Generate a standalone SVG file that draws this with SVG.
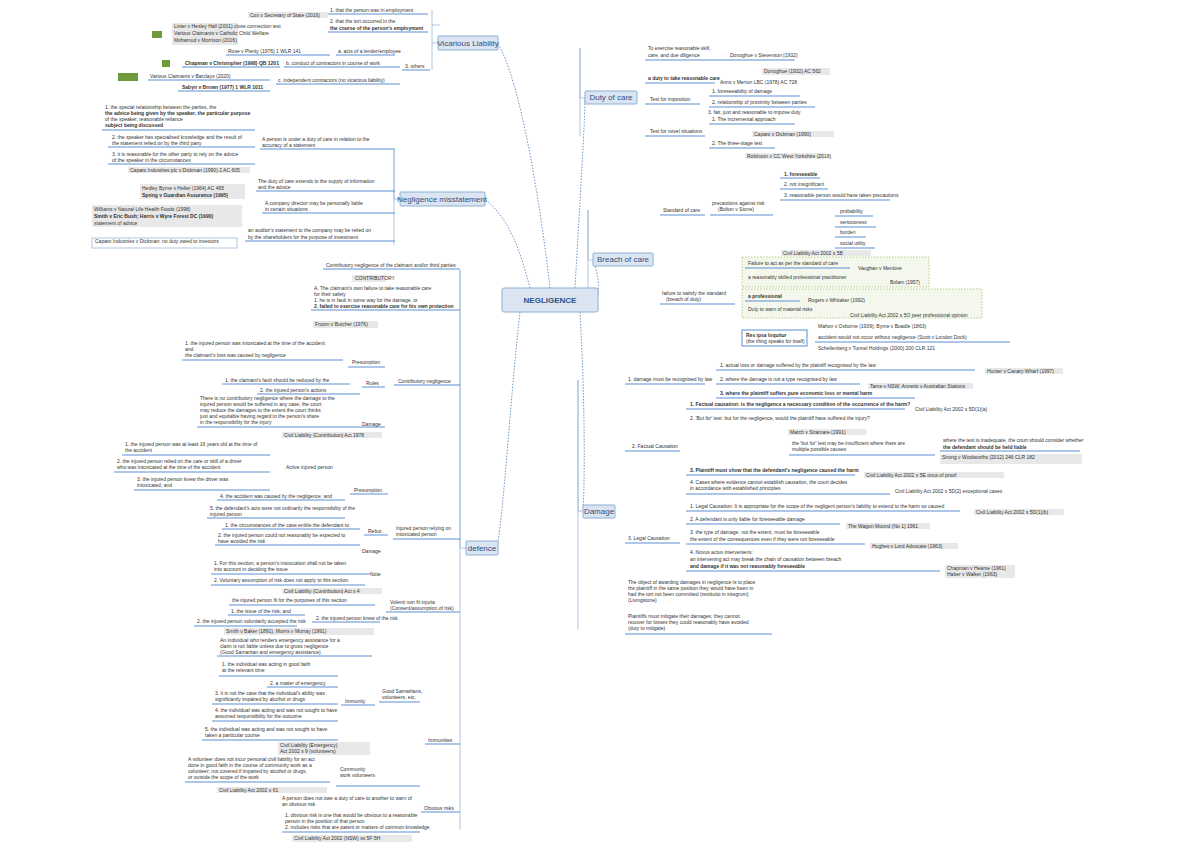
<svg xmlns="http://www.w3.org/2000/svg" width="1200" height="849" viewBox="0 0 1200 849">
<style>
.t{font-family:"Liberation Sans",Arial,sans-serif;font-size:5px;fill:#333}
.b{font-weight:bold}
.u{stroke:#5b8fd6;stroke-width:1;fill:none}
.v{stroke:#9db7d8;stroke-width:0.8;fill:none}
.c{stroke:#6f95c4;stroke-width:1;fill:none;stroke-dasharray:1.5 1.5}
.g{fill:#e8e8e8}
.m{fill:#dbe5f1;stroke:#8eaed4;stroke-width:1}
.mt{font-family:"Liberation Sans",Arial,sans-serif;font-size:8px;fill:#2f4f7f}
.k{fill:#f4f8ec;stroke:#b7cc8a;stroke-dasharray:1.5 1.5}
.gr{fill:#6e9a3c}
</style>
<rect width="1200" height="849" fill="#fff"/>
<g id="connectors">
<path class="c" d="M550 288 C540 200 520 80 498 44"/>
<path class="c" d="M530 288 C520 250 510 220 485 199"/>
<path class="c" d="M520 312 C510 400 505 500 497 548"/>
<path class="c" d="M575 288 C580 200 585 120 585 98"/>
<path class="c" d="M598 295 C600 280 595 265 593 260"/>
<path class="c" d="M580 312 C585 400 585 480 583 511"/>
<path class="v" d="M438 43 L432 43 L432 10 M432 70 L432 43 M432 25 L440 25"/>
<path class="v" d="M400 199 L394 199 L394 150 L394 245"/>
<path class="v" d="M466 548 L460 548 L460 270 L460 830"/>
<path class="v" d="M585 98 L580 98 L580 48 L580 136"/>
<path class="v" d="M593 260 L588 260 L588 210 L588 300"/>
<path class="v" d="M583 511 L578 511 L578 380 L578 630"/>
</g>
<g id="center"><rect class="m" x="502" y="288" width="96" height="24" rx="2" stroke-width="1.5"/><text class="mt b" x="550" y="303" text-anchor="middle" font-size="9">NEGLIGENCE</text></g>
<g id="vicarious"><rect class="m" x="438" y="36" width="60" height="14" rx="1"/><text class="mt" x="468" y="46" text-anchor="middle">Vicarious Liability</text></g>
<g id="misstatement"><rect class="m" x="400" y="192" width="85" height="14" rx="1"/><text class="mt" x="442" y="202" text-anchor="middle">Negligence misstatement</text></g>
<g id="defence"><rect class="m" x="466" y="541" width="32" height="14" rx="1"/><text class="mt" x="482" y="551" text-anchor="middle">defence</text></g>
<g id="duty"><rect class="m" x="585" y="91" width="52" height="13" rx="1"/><text class="mt" x="611" y="100" text-anchor="middle">Duty of care</text></g>
<g id="breach"><rect class="m" x="593" y="253" width="60" height="13" rx="1"/><text class="mt" x="623" y="262" text-anchor="middle">Breach of care</text></g>
<g id="damage"><rect class="m" x="583" y="505" width="32" height="13" rx="1"/><text class="mt" x="599" y="514" text-anchor="middle">Damage</text></g>

<g id="vl-leaves">
<rect class="g" x="248" y="12" width="80" height="6"/><text class="t" x="250" y="17">Cox v Secretary of State (2016)</text>
<text class="t" x="330" y="12">1. that the person was in employment</text><path class="u" d="M328 14 H428"/>
<text class="t" x="330" y="23">2. that the tort occurred in the</text><text class="t b" x="330" y="30">the course of the person's employment</text><path class="u" d="M328 32 H428"/>
<rect class="gr" x="152" y="31" width="10" height="7"/><rect class="g" x="172" y="23" width="66" height="22"/>
<text class="t" x="174" y="28">Lister v Hesley Hall (2001) close connection test</text><text class="t" x="174" y="35">Various Claimants v Catholic Child Welfare</text><text class="t" x="174" y="42">Mohamud v Morrison (2016)</text>
<text class="t" x="228" y="53">Rose v Plenty (1976) 1 WLR 141</text><path class="u" d="M226 55 H330"/>
<text class="t" x="338" y="53">a. acts of a lender/employee</text><path class="u" d="M336 55 H395"/>
<rect class="gr" x="162" y="60" width="8" height="7"/><text class="t b" x="185" y="65">Chapman v Christopher (1998) QB 1201</text><path class="u" d="M182 67 H280"/>
<text class="t" x="286" y="65">b. conduct of contractors in course of work</text><path class="u" d="M284 67 H400"/>
<text class="t" x="405" y="68">3. others</text><path class="u" d="M402 70 H430"/>
<rect class="gr" x="118" y="73" width="20" height="8"/><text class="t" x="150" y="78">Various Claimants v Barclays (2020)</text><path class="u" d="M148 80 H270"/>
<text class="t" x="278" y="82">c. independent contractors (no vicarious liability)</text><path class="u" d="M276 84 H400"/>
<text class="t b" x="182" y="89">Sabyn v Brown (1977) 1 WLR 1011</text><path class="u" d="M178 91 H270"/>
</g>

<g id="nm-leaves">
<text class="t" x="105" y="109">1. the special relationship between the parties, the</text>
<text class="t b" x="105" y="115">the advice being given by the speaker, the particular purpose</text>
<text class="t" x="105" y="121">of the speaker, reasonable reliance</text>
<text class="t b" x="105" y="127">subject being discussed</text><path class="u" d="M102 130 H255"/>
<text class="t" x="112" y="139">2. the speaker has specialised knowledge and the result of</text>
<text class="t" x="112" y="145">the statement relied on by the third party</text><path class="u" d="M108 147 H255"/>
<text class="t" x="112" y="156">3. it is reasonable for the other party to rely on the advice</text>
<text class="t" x="112" y="162">of the speaker in the circumstances</text><path class="u" d="M108 164 H255"/>
<rect class="g" x="128" y="167" width="122" height="6"/><text class="t" x="130" y="172">Caparo Industries plc v Dickman (1990) 2 AC 605</text>
<text class="t" x="262" y="141">A person is under a duty of care in relation to the</text><text class="t" x="262" y="147">accuracy of a statement</text><path class="u" d="M260 149 H395"/>
<text class="t" x="258" y="183">The duty of care extends to the supply of information</text><text class="t" x="258" y="189">and the advice</text><path class="u" d="M256 191 H395"/>
<rect class="g" x="140" y="184" width="105" height="15"/><text class="t" x="142" y="190">Hedley Byrne v Heller (1964) AC 465</text><text class="t b" x="142" y="197">Spring v Guardian Assurance (1995)</text>
<text class="t" x="265" y="205">A company director may be personally liable</text><text class="t" x="265" y="211">in certain situations</text><path class="u" d="M262 213 H395"/>
<rect class="g" x="92" y="205" width="150" height="22"/><text class="t" x="94" y="211">Williams v Natural Life Health Foods (1998)</text><text class="t b" x="94" y="218">Smith v Eric Bush; Harris v Wyre Forest DC (1990)</text><text class="t" x="94" y="225">statement of advice</text>
<text class="t" x="248" y="232">an auditor's statement to the company may be relied on</text><text class="t" x="248" y="239">by the shareholders for the purpose of investment</text><path class="u" d="M245 241 H395"/>
<rect x="92" y="238" width="145" height="10" fill="#fff" stroke="#8eaed4" stroke-width="0.7"/><text class="t" x="95" y="243">Caparo Industries v Dickman: no duty owed to investors</text>
</g>

<g id="defence-leaves">
<text class="t" x="326" y="267">Contributory negligence of the claimant and/or third parties</text><path class="u" d="M323 269 H460"/>
<rect class="g" x="352" y="275" width="34" height="7"/><text class="t" x="355" y="280">CONTRIBUTORY</text>
<text class="t" x="314" y="290">A. The claimant's own failure to take reasonable care</text><text class="t" x="314" y="296">for their safety</text><text class="t" x="314" y="302">1. he is in fault in some way for the damage, or</text><text class="t b" x="314" y="308">2. failed to exercise reasonable care for his own protection</text><path class="u" d="M311 310 H460"/>
<rect class="g" x="313" y="321" width="65" height="7"/><text class="t" x="315" y="326">Froom v Butcher (1976)</text>
<text class="t" x="185" y="345">1. the injured person was intoxicated at the time of the accident</text><text class="t" x="185" y="351">and</text><text class="t" x="185" y="357">the claimant's loss was caused by negligence</text><path class="u" d="M182 360 H343"/>
<text class="t" x="352" y="364">Presumption</text><path class="u" d="M348 367 H385"/>
<text class="t" x="225" y="382">1. the claimant's fault should be reduced by the</text><path class="u" d="M222 384 H350"/>
<text class="t" x="260" y="392">2. the injured person's actions</text><path class="u" d="M257 394 H360"/>
<text class="t" x="366" y="385">Rules</text><path class="u" d="M362 387 H385"/>
<text class="t" x="200" y="400">There is no contributory negligence where the damage to the</text><text class="t" x="200" y="406">injured person would be suffered in any case; the court</text><text class="t" x="200" y="412">may reduce the damages to the extent the court thinks</text><text class="t" x="200" y="418">just and equitable having regard to the person's share</text><text class="t" x="200" y="424">in the responsibility for the injury</text><path class="u" d="M197 427 H385"/>
<text class="t" x="362" y="426">Damage</text>
<rect class="g" x="282" y="432" width="100" height="6"/><text class="t" x="284" y="437">Civil Liability (Contribution) Act 1978</text>
<text class="t" x="398" y="383">Contributory negligence</text><path class="u" d="M394 385 H460"/>
<text class="t" x="125" y="446">1. the injured person was at least 16 years old at the time of</text><text class="t" x="125" y="452">the accident</text><path class="u" d="M122 455 H270"/>
<text class="t" x="117" y="463">2. the injured person relied on the care or skill of a driver</text><text class="t" x="117" y="469">who was intoxicated at the time of the accident</text><path class="u" d="M114 472 H270"/>
<text class="t" x="286" y="469">Active injured person</text>
<text class="t" x="137" y="481">3. the injured person knew the driver was</text><text class="t" x="137" y="487">intoxicated; and</text><path class="u" d="M134 490 H270"/>
<text class="t" x="354" y="492">Presumption</text><path class="u" d="M350 494 H388"/>
<text class="t" x="220" y="498">4. the accident was caused by the negligence; and</text><path class="u" d="M217 500 H345"/>
<text class="t" x="210" y="510">5. the defendant's acts were not ordinarily the responsibility of the</text><text class="t" x="210" y="516">injured person</text><path class="u" d="M207 518 H345"/>
<text class="t" x="225" y="527">1. the circumstances of the case entitle the defendant to</text><path class="u" d="M222 529 H360"/>
<text class="t" x="218" y="537">2. the injured person could not reasonably be expected to</text><text class="t" x="218" y="543">have avoided the risk</text><path class="u" d="M215 545 H360"/>
<text class="t" x="368" y="533">Rebut</text><path class="u" d="M364 535 H388"/>
<text class="t" x="396" y="530">Injured person relying on</text><text class="t" x="396" y="536">intoxicated person</text><path class="u" d="M393 539 H460"/>
<text class="t" x="362" y="553">Damage</text>
<text class="t" x="214" y="565">1. For this section, a person's intoxication shall not be taken</text><text class="t" x="214" y="571">into account in deciding the issue</text><path class="u" d="M211 574 H370"/>
<text class="t" x="370" y="576">Note</text>
<text class="t" x="214" y="582">2. Voluntary assumption of risk does not apply to this section.</text><path class="u" d="M211 585 H365"/>
<rect class="g" x="282" y="588" width="100" height="6"/><text class="t" x="284" y="593">Civil Liability (Contribution) Act s 4</text>
<text class="t" x="232" y="602">the injured person fit for the purposes of this section</text><path class="u" d="M229 605 H375"/>
<text class="t" x="231" y="613">1. the issue of the risk; and</text><path class="u" d="M228 615 H305"/>
<text class="t" x="316" y="620">2. the injured person knew of the risk</text><path class="u" d="M312 622 H380"/>
<text class="t" x="197" y="623">2. the injured person voluntarily accepted the risk</text><path class="u" d="M194 626 H297"/>
<text class="t" x="390" y="604">Volenti non fit injuria</text><text class="t" x="390" y="610">(Consent/assumption of risk)</text><path class="u" d="M386 612 H460"/>
<rect class="g" x="224" y="628" width="150" height="7"/><text class="t" x="226" y="633">Smith v Baker (1891); Morris v Murray (1991)</text>
<text class="t" x="220" y="642">An individual who renders emergency assistance for a</text><text class="t" x="220" y="648">claim is not liable unless due to gross negligence</text><text class="t" x="220" y="654">(Good Samaritan and emergency assistance)</text><path class="u" d="M217 656 H372"/>
<text class="t" x="222" y="666">1. the individual was acting in good faith</text><text class="t" x="222" y="672">at the relevant time</text><path class="u" d="M219 676 H338"/>
<text class="t" x="270" y="685">2. a matter of emergency</text><path class="u" d="M267 687 H338"/>
<text class="t" x="215" y="695">3. it is not the case that the individual's ability was</text><text class="t" x="215" y="701">significantly impaired by alcohol or drugs</text><path class="u" d="M212 704 H338"/>
<text class="t" x="215" y="712">4. the individual was acting and was not sought to have</text><text class="t" x="215" y="718">assumed responsibility for the outcome</text><path class="u" d="M212 721 H338"/>
<text class="t" x="205" y="731">5. the individual was acting and was not sought to have</text><text class="t" x="205" y="737">taken a particular course</text><path class="u" d="M202 740 H338"/>
<text class="t" x="345" y="703">Immunity</text><path class="u" d="M341 705 H375"/>
<text class="t" x="382" y="693">Good Samaritans,</text><text class="t" x="382" y="699">volunteers, etc.</text><path class="u" d="M379 702 H420"/>
<rect class="g" x="278" y="742" width="92" height="13"/><text class="t" x="280" y="747">Civil Liability (Emergency)</text><text class="t" x="280" y="753">Act 2002 s 9 (volunteers)</text>
<text class="t" x="188" y="761">A volunteer does not incur personal civil liability for an act</text><text class="t" x="188" y="767">done in good faith in the course of community work as a</text><text class="t" x="188" y="773">volunteer; not covered if impaired by alcohol or drugs,</text><text class="t" x="188" y="779">or outside the scope of the work</text><path class="u" d="M185 782 H330"/>
<text class="t" x="340" y="771">Community</text><text class="t" x="340" y="777">work volunteers</text><path class="u" d="M336 786 H420"/>
<rect class="g" x="217" y="787" width="110" height="6"/><text class="t" x="219" y="792">Civil Liability Act 2002 s 61</text>
<text class="t" x="428" y="742">Immunities</text><path class="u" d="M425 744 H460"/>
<text class="t" x="282" y="800">A person does not owe a duty of care to another to warn of</text><text class="t" x="282" y="806">an obvious risk</text>
<text class="t" x="285" y="817">1. obvious risk is one that would be obvious to a reasonable</text><text class="t" x="285" y="823">person in the position of that person</text><text class="t" x="285" y="829">2. includes risks that are patent or matters of common knowledge</text><path class="u" d="M282 832 H420"/>
<rect class="g" x="292" y="835" width="120" height="7"/><text class="t" x="294" y="840">Civil Liability Act 2002 (NSW) ss 5F-5H</text>
<text class="t" x="424" y="810">Obvious risks</text><path class="u" d="M421 812 H460"/>
</g>

<g id="duty-leaves">
<text class="t" x="648" y="50">To exercise reasonable skill,</text><text class="t" x="648" y="57">care, and due diligence</text><path class="u" d="M645 60 H795"/>
<text class="t" x="730" y="57">Donoghue v Stevenson [1932]</text>
<rect class="g" x="762" y="68" width="68" height="7"/><text class="t" x="764" y="73">Donoghue (1932) AC 562</text>
<text class="t b" x="648" y="80">a duty to take reasonable care</text><path class="u" d="M645 83 H715"/>
<text class="t" x="720" y="84">Anns v Merton LBC (1978) AC 728</text>
<text class="t" x="650" y="101">Test for imposition</text><path class="u" d="M645 104 H700"/>
<text class="t" x="712" y="93">1. foreseeability of damage</text><path class="u" d="M709 96 H800"/>
<text class="t" x="712" y="104">2. relationship of proximity between parties</text><path class="u" d="M709 107 H815"/>
<text class="t" x="708" y="114">3. fair, just and reasonable to impose duty</text>
<text class="t" x="650" y="133">Test for novel situations</text><path class="u" d="M645 136 H705"/>
<text class="t" x="712" y="121">1. The incremental approach</text><path class="u" d="M709 124 H795"/>
<rect class="g" x="752" y="131" width="82" height="6"/><text class="t" x="754" y="136">Caparo v Dickman (1990)</text>
<text class="t" x="712" y="145">2. The three-stage test</text><path class="u" d="M709 148 H775"/>
<rect class="g" x="745" y="153" width="80" height="6"/><text class="t" x="747" y="158">Robinson v CC West Yorkshire (2018)</text>
</g>

<g id="breach-leaves">
<text class="t" x="663" y="212">Standard of care</text><path class="u" d="M660 215 H705"/>
<text class="t" x="712" y="205">precautions against risk</text><text class="t" x="718" y="211">(Bolton v Stone)</text><path class="u" d="M710 215 H773"/>
<text class="t b" x="784" y="176">1. foreseeable</text><path class="u" d="M780 178 H820"/>
<text class="t" x="784" y="186">2. not insignificant</text><path class="u" d="M780 189 H828"/>
<text class="t" x="784" y="197">3. reasonable person would have taken precautions</text><path class="u" d="M780 200 H890"/>
<text class="t" x="840" y="213">probability</text><path class="u" d="M835 216 H873"/>
<text class="t" x="840" y="224">seriousness</text><path class="u" d="M835 227 H876"/>
<text class="t" x="840" y="234">burden</text><path class="u" d="M835 237 H866"/>
<text class="t" x="840" y="245">social utility</text><path class="u" d="M835 248 H875"/>
<rect class="g" x="781" y="250" width="90" height="6"/><text class="t" x="783" y="255">Civil Liability Act 2002 s 5B</text>
<rect class="k" x="742" y="257" width="187" height="30"/>
<text class="t" x="748" y="265">Failure to act as per the standard of care</text><path class="u" d="M745 268 H850"/>
<text class="t" x="858" y="270">Vaughan v Menlove</text>
<text class="t" x="748" y="279">a reasonably skilled professional practitioner</text><text class="t" x="890" y="284">Bolam (1957)</text>
<rect class="k" x="742" y="289" width="240" height="29"/>
<text class="t b" x="748" y="298">a professional</text><path class="u" d="M745 301 H800"/>
<text class="t" x="808" y="302">Rogers v Whitaker (1992)</text>
<text class="t" x="748" y="311">Duty to warn of material risks</text><text class="t" x="850" y="317">Civil Liability Act 2002 s 5O peer professional opinion</text>
<text class="t" x="662" y="295">failure to satisfy the standard</text><text class="t" x="666" y="301">(breach of duty)</text><path class="u" d="M660 304 H735"/>
<rect x="742" y="330" width="65" height="16" fill="#fff" stroke="#5b8fd6"/>
<text class="t b" x="746" y="337">Res ipsa loquitur</text><text class="t" x="746" y="343">(the thing speaks for itself)</text>
<text class="t" x="818" y="328">Mahon v Osborne (1939); Byrne v Boadle (1863)</text>
<text class="t" x="818" y="339">accident would not occur without negligence (Scott v London Dock)</text><path class="u" d="M815 342 H1010"/>
<text class="t" x="818" y="350">Schellenberg v Tunnel Holdings (2000) 200 CLR 121</text>
</g>

<g id="damage-leaves">
<text class="t" x="628" y="381">1. damage must be recognised by law</text><path class="u" d="M625 384 H705"/>
<text class="t" x="720" y="367">1. actual loss or damage suffered by the plaintiff recognised by the law</text><path class="u" d="M716 370 H975"/>
<rect class="g" x="985" y="368" width="78" height="6"/><text class="t" x="987" y="373">Hunter v Canary Wharf (1997)</text>
<text class="t" x="720" y="381">2. where the damage is not a type recognised by law</text><path class="u" d="M716 384 H860"/>
<rect class="g" x="868" y="383" width="105" height="6"/><text class="t" x="870" y="388">Tame v NSW; Annetts v Australian Stations</text>
<text class="t b" x="720" y="395">3. where the plaintiff suffers pure economic loss or mental harm</text><path class="u" d="M716 398 H915"/>
<text class="t b" x="690" y="406">1. Factual causation: is the negligence a necessary condition of the occurrence of the harm?</text><path class="u" d="M686 409 H905"/>
<text class="t" x="915" y="411">Civil Liability Act 2002 s 5D(1)(a)</text>
<text class="t" x="690" y="420">2. 'But for' test: but for the negligence, would the plaintiff have suffered the injury?</text>
<rect class="g" x="788" y="429" width="78" height="6"/><text class="t" x="790" y="434">March v Stramare (1991)</text>
<text class="t" x="792" y="445">the 'but for' test may be insufficient where there are</text><text class="t" x="792" y="451">multiple possible causes</text><path class="u" d="M789 455 H935"/>
<text class="t" x="943" y="442">where the test is inadequate, the court should consider whether</text><text class="t b" x="943" y="449">the defendant should be held liable</text><path class="u" d="M940 451 H1080"/>
<rect class="g" x="940" y="454" width="142" height="10"/><text class="t" x="942" y="459">Strong v Woolworths (2012) 246 CLR 182</text>
<text class="t b" x="690" y="472">3. Plaintiff must show that the defendant's negligence caused the harm</text><path class="u" d="M686 475 H855"/>
<rect class="g" x="864" y="472" width="140" height="6"/><text class="t" x="866" y="477">Civil Liability Act 2002 s 5E onus of proof</text>
<text class="t" x="690" y="484">4. Cases where evidence cannot establish causation, the court decides</text><text class="t" x="690" y="490">in accordance with established principles</text><path class="u" d="M686 494 H890"/>
<text class="t" x="895" y="493">Civil Liability Act 2002 s 5D(2) exceptional cases</text>
<text class="t" x="632" y="448">2. Factual Causation</text><path class="u" d="M625 451 H680"/>
<text class="t" x="690" y="508">1. Legal Causation: It is appropriate for the scope of the negligent person's liability to extend to the harm so caused</text><path class="u" d="M686 511 H960"/>
<rect class="g" x="974" y="509" width="90" height="6"/><text class="t" x="976" y="514">Civil Liability Act 2002 s 5D(1)(b)</text>
<text class="t" x="690" y="521">2. A defendant is only liable for foreseeable damage</text><path class="u" d="M686 524 H840"/>
<rect class="g" x="846" y="523" width="84" height="6"/><text class="t" x="848" y="528">The Wagon Mound (No 1) 1961</text>
<text class="t" x="690" y="534">3. the type of damage, not the extent, must be foreseeable</text><text class="t" x="690" y="541">the extent of the consequences even if they were not foreseeable</text><path class="u" d="M686 544 H865"/>
<rect class="g" x="870" y="543" width="88" height="6"/><text class="t" x="872" y="548">Hughes v Lord Advocate (1963)</text>
<text class="t" x="690" y="554">4. Novus actus interveniens:</text><text class="t" x="690" y="561">an intervening act may break the chain of causation between breach</text><text class="t b" x="690" y="568">and damage if it was not reasonably foreseeable</text><path class="u" d="M686 571 H940"/>
<rect class="g" x="945" y="565" width="70" height="13"/><text class="t" x="947" y="570">Chapman v Hearse (1961)</text><text class="t" x="947" y="576">Haber v Walker (1963)</text>
<text class="t" x="628" y="540">3. Legal Causation</text><path class="u" d="M625 543 H680"/>
<text class="t" x="628" y="584">The object of awarding damages in negligence is to place</text><text class="t" x="628" y="590">the plaintiff in the same position they would have been in</text><text class="t" x="628" y="596">had the tort not been committed (restitutio in integrum)</text><text class="t" x="628" y="602">(Livingstone)</text>
<text class="t" x="628" y="618">Plaintiffs must mitigate their damages; they cannot</text><text class="t" x="628" y="624">recover for losses they could reasonably have avoided</text><text class="t" x="628" y="630">(duty to mitigate)</text><path class="u" d="M625 634 H772"/>
</g>
</svg>
